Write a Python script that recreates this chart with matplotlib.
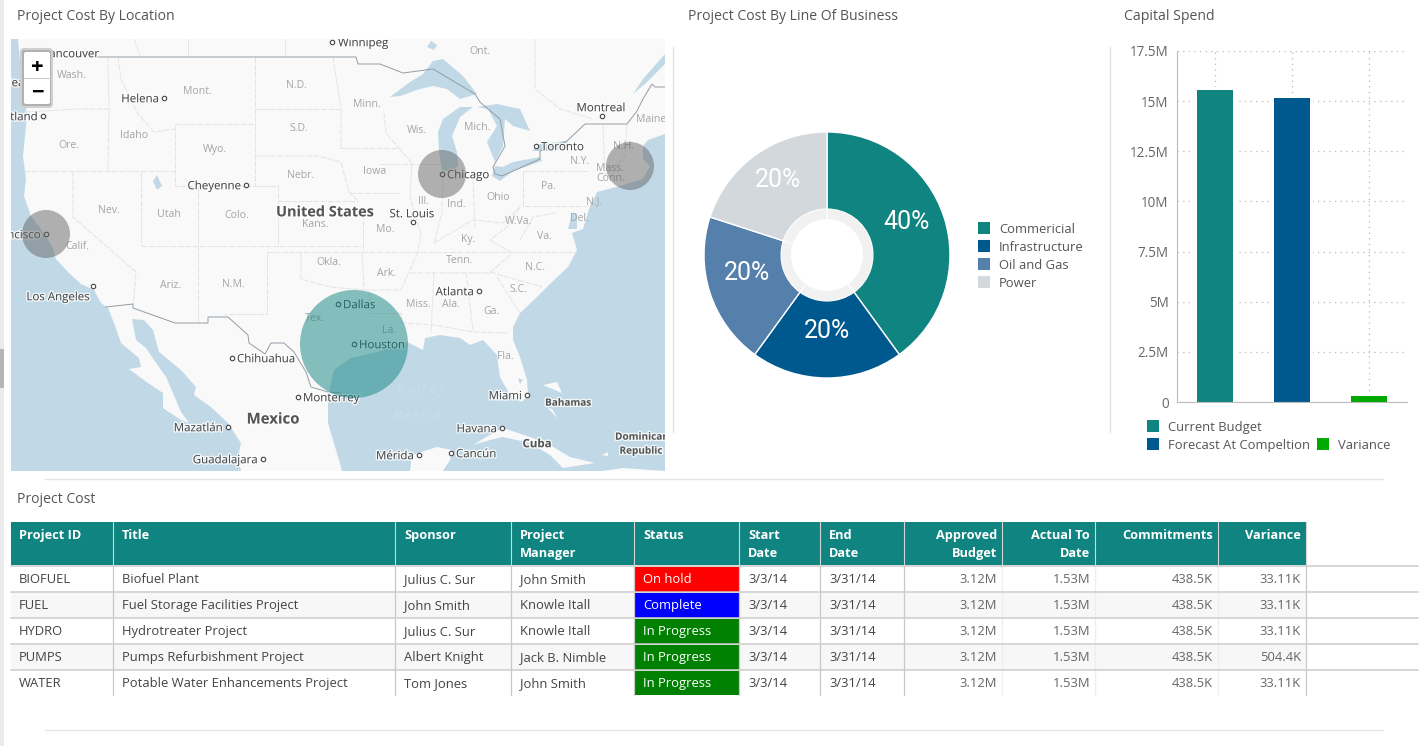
import matplotlib
matplotlib.use("Agg")
import matplotlib.pyplot as plt
import matplotlib.patheffects as pe
from matplotlib.patches import Rectangle, Circle, Polygon, FancyBboxPatch

plt.rcParams['font.family'] = ['Open Sans', 'DejaVu Sans']

W, H = 1422, 746
PT = 0.72  # one pixel in points at dpi 100

# ---- table data
columns = ["Project ID", "Title", "Sponsor", "Project\nManager", "Status", "Start\nDate", "End\nDate",
           "Approved\nBudget", "Actual To\nDate", "Commitments", "Variance"]
project_ids = ["BIOFUEL", "FUEL", "HYDRO", "PUMPS", "WATER"]
titles = ["Biofuel Plant", "Fuel Storage Facilities Project", "Hydrotreater Project",
          "Pumps Refurbishment Project", "Potable Water Enhancements Project"]
sponsors = ["Julius C. Sur", "John Smith", "Julius C. Sur", "Albert Knight", "Tom Jones"]
managers = ["John Smith", "Knowle Itall", "Knowle Itall", "Jack B. Nimble", "John Smith"]
statuses = ["On hold", "Complete", "In Progress", "In Progress", "In Progress"]
start_dates = ["3/3/14"] * 5
end_dates = ["3/31/14"] * 5
approved = ["3.12M"] * 5
actual = ["1.53M"] * 5
commitments = ["438.5K"] * 5
variances = ["33.11K", "33.11K", "33.11K", "504.4K", "33.11K"]
status_colors = {"On hold": "#ff0000", "Complete": "#0000ff", "In Progress": "#008000"}

# ---- pie data
lob_names = ["Commericial", "Infrastructure", "Oil and Gas", "Power"]
lob_values = [40, 20, 20, 20]
lob_colors = ["#108481", "#00598e", "#5480ab", "#d3d8dc"]

# ---- bar data
spend_names = ["Current Budget", "Forecast At Compeltion", "Variance"]
spend_values = [15.56, 15.16, 0.3]
spend_colors = ["#108481", "#00598e", "#00a800"]
spend_ticks = [0, 2.5, 5, 7.5, 10, 12.5, 15, 17.5]
spend_ticklabels = ["0", "2.5M", "5M", "7.5M", "10M", "12.5M", "15M", "17.5M"]

# ---- map data (all in screen pixels of the map tile)
bubble_x = [354, 442, 630, 46]
bubble_y = [344, 174, 166, 234]
bubble_r = [54, 24, 24, 24]
bubble_c = ["#108481", "#666666", "#666666", "#666666"]

land = [(18, 39), (665, 39), (665, 134), (648, 140), (643, 146), (643, 159), (650, 166), (643, 179), (620, 186),
        (597, 192), (590, 206), (583, 229), (572, 233), (577, 250), (568, 267), (551, 283),
        (537, 297), (520, 313), (513, 327), (513, 340), (520, 357), (527, 380), (528, 395), (522, 402),
        (510, 395), (500, 377), (497, 355), (483, 340), (470, 345), (460, 338), (440, 335), (425, 338),
        (423, 350), (407, 342), (377, 352), (351, 358), (334, 370), (330, 387), (328, 403), (328, 423),
        (341, 467), (342, 471), (241, 471), (238, 457), (241, 443), (228, 423), (211, 407), (194, 395),
        (196, 387), (181, 370), (159, 352), (153, 330), (144, 320), (132, 319), (136, 340), (146, 348),
        (154, 360), (166, 377), (173, 393), (181, 412), (189, 423), (181, 420), (163, 408), (163, 393),
        (148, 383), (129, 369), (141, 367), (139, 358), (121, 343), (114, 323), (108, 308), (101, 303),
        (94, 290), (81, 284), (68, 272), (56, 259), (53, 249), (46, 236), (31, 216), (24, 196),
        (26, 179), (23, 156), (27, 116), (21, 72)]
yucatan = [(410, 471), (412, 455), (437, 447), (452, 450), (450, 460), (443, 471)]
cuba = [(473, 445), (493, 433), (503, 428), (530, 437), (550, 445), (570, 457), (595, 463),
        (563, 468), (550, 455), (530, 443), (503, 437), (490, 440)]
islands = [[(543, 385), (557, 382), (562, 393)], [(547, 407), (553, 410), (557, 418)],
           [(602, 471), (623, 468), (665, 471)], [(602, 455), (608, 452), (608, 456)]]
lakes = [[(390, 97), (410, 82), (423, 74), (433, 61), (443, 59), (463, 76), (477, 94), (460, 99),
          (447, 89), (433, 86), (420, 89), (400, 96)],
         [(438, 132), (443, 119), (460, 107), (473, 107), (460, 117), (452, 136), (457, 152),
          (458, 166), (450, 172), (442, 170), (439, 152)],
         [(487, 142), (497, 126), (488, 109), (477, 107), (497, 104), (520, 109), (530, 131),
          (513, 126), (505, 119), (503, 146), (495, 162)],
         [(492, 176), (495, 166), (503, 167), (513, 162), (540, 157), (542, 161), (513, 171), (500, 181)],
         [(532, 151), (540, 144), (567, 141), (570, 146), (553, 151), (540, 151)],
         [(633, 94), (643, 79), (665, 54), (665, 64), (647, 82)],
         [(427, 47), (431, 41), (437, 45), (434, 50)],
         [(153, 181), (157, 175), (162, 186), (157, 190)],
         [(568, 229), (572, 214), (577, 213), (577, 229)],
         [(518, 378), (523, 380), (520, 384)]]

intl_borders = [
    [(98, 57), (356, 57), (358, 64), (380, 64), (403, 73), (433, 69), (475, 94), (480, 102),
     (488, 109), (500, 119), (505, 146), (493, 167), (495, 174), (502, 176), (540, 159), (540, 151),
     (567, 141), (585, 124), (627, 124), (637, 111), (643, 99), (652, 84), (655, 87), (665, 87)],
    [(106, 307), (133, 304), (133, 308), (175, 323), (208, 323), (208, 317), (228, 317), (248, 335),
     (249, 343), (265, 354), (271, 343), (284, 343), (294, 352), (306, 372), (311, 387), (328, 392), (341, 393)],
]
state_borders = [
    [(24, 112), (78, 109), (109, 109)], [(108, 57), (109, 109), (108, 171)], [(24, 171), (174, 171)],
    [(118, 57), (121, 79), (138, 114), (154, 132), (175, 129)],
    [(175, 124), (255, 124), (255, 186), (175, 186), (175, 124)], [(255, 57), (255, 124)],
    [(255, 109), (339, 109)], [(333, 57), (341, 109), (341, 149)],
    [(255, 156), (318, 156), (341, 162), (349, 192), (358, 201)], [(255, 186), (278, 186), (278, 201), (358, 201)],
    [(198, 186), (198, 323)], [(278, 201), (278, 246)], [(141, 171), (141, 246)], [(141, 246), (361, 246)],
    [(73, 171), (73, 217), (136, 272), (134, 297), (133, 304)], [(267, 252), (267, 314), (224, 314)],
    [(267, 252), (363, 252)], [(301, 252), (301, 279), (330, 287), (364, 290)], [(362, 252), (364, 290)],
    [(363, 206), (363, 252)], [(350, 193), (399, 193)], [(399, 148), (412, 163), (410, 197), (421, 233), (418, 252)],
    [(362, 252), (575, 252)], [(364, 290), (401, 290), (418, 252)], [(369, 290), (369, 313), (401, 313), (401, 323)],
    [(410, 273), (490, 273), (512, 253)], [(434, 273), (431, 333)], [(466, 273), (473, 330)],
    [(401, 323), (434, 325), (473, 332), (507, 333)], [(443, 172), (442, 212), (434, 243)], [(473, 179), (475, 229)],
    [(434, 243), (473, 220), (503, 223), (520, 207)], [(523, 171), (587, 171)], [(523, 171), (523, 206), (587, 206)],
    [(380, 164), (442, 164)], [(340, 148), (399, 148)], [(384, 113), (386, 133), (399, 148)],
    [(490, 272), (542, 287)], [(497, 277), (520, 313)], [(520, 207), (507, 227), (490, 240), (512, 253)],
    [(520, 240), (533, 217), (555, 213)], [(603, 126), (605, 176)], [(627, 124), (625, 156), (605, 176)],
    [(535, 39), (535, 89), (560, 109), (593, 119)], [(134, 39), (140, 55)], [(188, 39), (188, 57)], [(285, 39), (285, 57)],
]

# name, dot x, dot y, label x, label y, alignment
cities = [("Winnipeg", 332, 42, 338, 42, "left"), ("Vancouver", None, None, 99, 53, "right"),
          ("Seattle", None, None, 42, 82, "right"), ("Helena", 164, 98, 159, 98, "right"),
          ("Portland", 43, 116, 38, 116, "right"), ("Montreal", 602, 116, 601, 107, "center"),
          ("Toronto", 536, 146, 541, 146, "left"), ("Chicago", 442, 174, 447, 174, "left"),
          ("Cheyenne", 246, 185, 241, 185, "right"), ("St. Louis", 413, 222, 412, 213, "center"),
          ("San Francisco", 46, 234, 41, 234, "right"), ("Los Angeles", 93, 286, 58, 296, "center"),
          ("Dallas", 338, 304, 343, 304, "left"), ("Houston", 354, 344, 359, 344, "left"),
          ("Chihuahua", 232, 358, 237, 358, "left"), ("Monterrey", 298, 397, 303, 397, "left"),
          ("Atlanta", 479, 291, 474, 291, "right"), ("Miami", 527, 395, 522, 395, "right"),
          ("Mazatlán", 228, 427, 223, 427, "right"), ("Guadalajara", 263, 459, 258, 459, "right"),
          ("Havana", 502, 428, 497, 428, "right"), ("Mérida", 419, 455, 414, 455, "right"),
          ("Cancún", 451, 453, 456, 453, "left")]
countries = [("United States", 325, 211, 14.5), ("Mexico", 273, 418, 15), ("Bahamas", 568, 402, 10),
             ("Cuba", 537, 443, 11.5), ("Dominican", 642, 436, 10), ("Republic", 641, 450, 10)]
states = [("Ont.", 480, 50), ("Wash.", 72, 74), ("Mont.", 197, 90), ("N.D.", 296, 84), ("Minn.", 367, 103),
          ("Wis.", 417, 129), ("Mich.", 477, 126), ("Maine", 651, 118), ("S.D.", 299, 127), ("Idaho", 134, 134),
          ("Ore.", 69, 144), ("Wyo.", 215, 148), ("N.H.", 624, 145), ("N.Y.", 580, 160), ("Nebr.", 301, 174),
          ("Iowa", 375, 170), ("Mass.", 610, 167), ("Conn.", 611, 177), ("Pa.", 548, 185), ("Nev.", 109, 209),
          ("Utah", 169, 213), ("Colo.", 237, 214), ("Ohio", 498, 196), ("N.J.", 594, 200), ("Ill.", 423, 200),
          ("Ind.", 456, 203), ("Kans.", 315, 223), ("Mo.", 385, 228), ("W.Va.", 519, 220), ("Del.", 579, 217),
          ("Va.", 544, 235), ("Ky.", 468, 238), ("Calif.", 77, 245), ("Okla.", 329, 261), ("Tenn.", 460, 259),
          ("N.C.", 535, 266), ("Ark.", 387, 272), ("S.C.", 518, 288), ("Ariz.", 171, 284), ("N.M.", 233, 283),
          ("Miss.", 418, 303), ("Ala.", 451, 303), ("Ga.", 491, 310), ("Tex.", 315, 317), ("La.", 389, 329),
          ("Fla.", 505, 355)]


def px_axes(x0, y0, x1, y1):
    # axes placed by screen pixels, top-left origin
    a = fig.add_axes([x0 / W, 1 - y1 / H, (x1 - x0) / W, (y1 - y0) / H])
    return a


fig = plt.figure(figsize=(W / 100, H / 100), dpi=100, facecolor="white")

# page layer
page = px_axes(0, 0, W, H)
page.set_xlim(0, W)
page.set_ylim(H, 0)
page.axis("off")


def txt(x, y, s, size=13, color="#555555", ha="left", weight="normal", a=None, **kw):
    # y is the middle of the capitals, baseline keeps rows level whatever the letters
    return (a or page).text(x, y + 0.37 * size, s, fontsize=size * PT, color=color, ha=ha, va="baseline",
                            fontweight=weight, **kw)


page.add_patch(Rectangle((0, 0), 4, H, color="#ececec", lw=0))
page.add_patch(Rectangle((0, 349), 4, 39, color="#b5b5b5", lw=0))
txt(17, 15, "Project Cost By Location", 14)
txt(688, 15, "Project Cost By Line Of Business", 14)
txt(1124, 15, "Capital Spend", 14)
txt(17, 498, "Project Cost", 14)
for yy in [478.5, 729.5]:
    page.plot([45, 1383], [yy, yy], color="#e6e6e6", lw=1)
for xx in [672.5, 1109.5]:
    page.plot([xx, xx], [47, 432], color="#e4e4e4", lw=1)

# ---- map
m = px_axes(11, 39, 665, 471)
m.set_xlim(11, 665)
m.set_ylim(471, 39)
m.axis("off")
m.add_patch(Rectangle((11, 39), 654, 432, color="#c1d9e7", lw=0, zorder=0))
for poly in [land, yucatan, cuba] + islands:
    m.add_patch(Polygon(poly, closed=True, fc="#f9f9f9", ec="none", zorder=1))
for poly in lakes:
    m.add_patch(Polygon(poly, closed=True, fc="#c1d9e7", ec="none", zorder=2))
for line in state_borders:
    m.plot(*zip(*line), color="#e3e3e3", lw=0.7, ls=(0, (6, 1.5)), zorder=3)
for line in intl_borders:
    m.plot(*zip(*line), color="#939da5", lw=0.7, zorder=4)

halo = [pe.withStroke(linewidth=2, foreground=(1, 1, 1, 0.8))]
for name, sx, sy in states:
    txt(sx, sy, name, 10.5, "#a5a5a5", "center", a=m, zorder=5, clip_on=True)
for name, dx, dy, lx, ly, al in cities:
    if dx is not None:
        m.plot(dx, dy, "o", ms=3.2, mfc="white", mec="#444444", mew=0.8, zorder=6)
    txt(lx, ly, name, 11.5, "#444444", al, a=m, zorder=6, clip_on=True, path_effects=halo)
for name, cx, cy, size in countries:
    txt(cx, cy, name, size, "#555555", "center", "bold", a=m, zorder=6, clip_on=True, path_effects=halo)
txt(420, 389, "G u l f  o f", 10.5, "#cddfea", "center", a=m, zorder=5, style="italic")
txt(417, 414, "M e x i c o", 10.5, "#cddfea", "center", a=m, zorder=5, style="italic")

for bx, by, br, bc in zip(bubble_x, bubble_y, bubble_r, bubble_c):
    m.add_patch(Circle((bx, by), br, fc=bc, ec="none", alpha=0.5, zorder=7))

# zoom control, soft shadow then the white box
m.add_patch(FancyBboxPatch((21, 49), 31, 58, boxstyle="round,pad=0,rounding_size=3", fc="#b0b0b0",
                           ec="#d0d0d0", lw=1.5, zorder=8))
m.add_patch(FancyBboxPatch((24, 52), 26, 52, boxstyle="round,pad=0,rounding_size=2", fc="white",
                           ec="none", zorder=8.5))
m.plot([24, 50], [78, 78], color="#cccccc", lw=0.8, zorder=9)
txt(37, 65, "+", 22, "black", "center", "bold", a=m, zorder=9)
txt(37, 90.5, "−", 22, "black", "center", "bold", a=m, zorder=9)

# ---- pie
p = px_axes(704, 132, 950, 378)
wedges, _, autos = p.pie(lob_values, colors=lob_colors, startangle=90, counterclock=False, radius=1,
                         autopct="%d%%", pctdistance=0.68,
                         wedgeprops=dict(edgecolor="white", linewidth=1),
                         textprops=dict(color="white", family="Roboto", fontweight="normal", fontsize=25 * PT))
for t in autos:
    t.set_y(t.get_position()[1] + 0.06)
p.pie(lob_values, colors=["#f1f1f1"] * 4, startangle=90, counterclock=False, radius=46 / 123,
      wedgeprops=dict(edgecolor="white", linewidth=0.8))
p.add_patch(Circle((0, 0), 36 / 123, fc="white", ec="none", zorder=5))
p.set_xlim(-1, 1)
p.set_ylim(-1, 1)

for i, (name, col) in enumerate(zip(lob_names, lob_colors)):
    page.add_patch(Rectangle((978, 222 + 18 * i), 12, 12, color=col, lw=0))
    txt(999, 228 + 18 * i, name, 13)

# ---- bars
b = px_axes(1177, 51, 1407, 402)
xs = list(range(len(spend_values)))
b.bar(xs, spend_values, width=0.47, color=spend_colors, edgecolor="white", linewidth=4.5, zorder=2)
b.bar(xs, spend_values, width=0.47, color=spend_colors, zorder=3)
b.set_xlim(-0.5, 2.5)
b.set_ylim(0, 17.5)
b.set_xticks(xs)
b.set_xticklabels([])
b.set_yticks(spend_ticks)
b.set_yticklabels(spend_ticklabels, fontsize=13.5 * PT, color="#666666")
b.tick_params(length=0, pad=6)
b.grid(True, ls=(0, (1, 3.5)), color="#b8b8b8", lw=0.9, zorder=1)
b.set_axisbelow(True)
for side in ["top", "right"]:
    b.spines[side].set_visible(False)
for side in ["left", "bottom"]:
    b.spines[side].set_color("#bdbdbd")
    b.spines[side].set_zorder(5)

legend_pos = [(1147, 420), (1147, 438), (1317, 438)]
for name, col, (lx, ly) in zip(spend_names, spend_colors, legend_pos):
    page.add_patch(Rectangle((lx, ly), 12, 12, color=col, lw=0))
    txt(lx + 21, ly + 6, name, 13)

# ---- table
edges = [11, 113, 395, 511, 634, 739, 820, 904, 1002, 1095, 1218, 1306]
row_top = 566
row_h = 26
right_cols = {7, 8, 9, 10}
page.add_patch(Rectangle((11, 522), 1295, 43, color="#108481", lw=0))
rows = list(zip(project_ids, titles, sponsors, managers, statuses, start_dates, end_dates,
                approved, actual, commitments, variances))
for c, name in enumerate(columns):
    lines = name.split("\n")
    for k, line in enumerate(lines):
        if c in right_cols:
            txt(edges[c + 1] - 5, 534 + 18 * k, line, 12.7, "white", "right", "bold")
        else:
            txt(edges[c] + 9 if c else 19, 534 + 18 * k, line, 12.7, "white", "left", "bold")
    if c > 0:
        page.plot([edges[c] - 0.5] * 2, [522, 565], color="#d5d5d5", lw=0.8)
page.plot([1305.5] * 2, [522, 565], color="#d5d5d5", lw=0.8)

for r, row in enumerate(rows):
    y0 = row_top + r * row_h
    hh = row_h if r < 4 else 25
    if r % 2 == 1:
        page.add_patch(Rectangle((11, y0), 1295, hh, color="#f7f7f7", lw=0, zorder=0.5))
    yc = y0 + 12.5
    for c, val in enumerate(row):
        if c == 4:
            page.add_patch(Rectangle((635, y0 + 1), 104, hh - 1, color=status_colors[val], lw=0, zorder=1))
            txt(edges[c] + 9, yc, val, 13, "white", zorder=3)
        elif c in right_cols:
            txt(edges[c + 1] - 5, yc, val, 13, "#666666", "right", zorder=3)
        else:
            txt(edges[c] + 9 if c else 19, yc, val, 13, "#444444", zorder=3)
for c in range(1, 12):
    col = "#eeeeee" if c in (8, 9, 10) else "#c8c8c8"
    page.plot([edges[c] - 0.5] * 2, [566, 695], color=col, lw=0.9, zorder=2)
for r in range(0, 5):
    yy = row_top - 0.5 + r * row_h
    page.plot([11, 1418], [yy, yy], color="#cccccc", lw=1.1, zorder=2)
page.patch.set_alpha(0)

fig.savefig("out.png", dpi=100)
